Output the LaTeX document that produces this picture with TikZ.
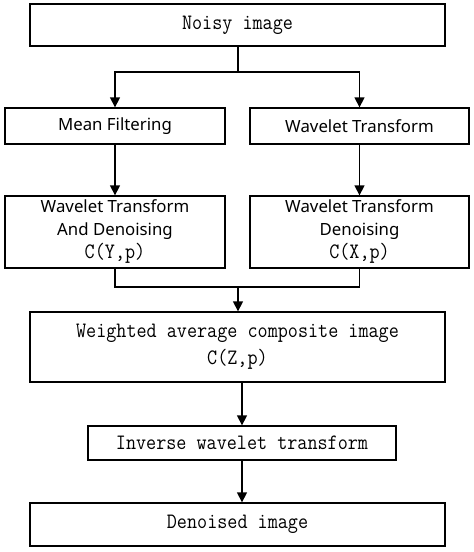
\documentclass[tikz,border=0pt]{standalone}
\usepackage{fontspec}
\usetikzlibrary{arrows.meta}
\newfontfamily\monof[FakeStretch=0.89]{Latin Modern Mono}
\newfontfamily\sansf{Noto Sans}
\begin{document}
\begin{tikzpicture}[x=1pt,y=-1pt,
  box/.style={draw,line width=1.3pt,inner sep=0pt,align=center},
  mtext/.style={font=\monof\fontsize{22}{27}\selectfont},
  stext/.style={font=\sansf\fontsize{16.8}{23}\selectfont},
  conn/.style={line width=1.3pt},
  arr/.style={conn,-{Triangle[length=10pt,width=10pt]}}]
\useasboundingbox (0,0) rectangle (474,552);
\node[box,mtext,minimum width=415pt,minimum height=42pt] (noisy) at (237.5,25) {Noisy image};
\node[box,stext,minimum width=220pt,minimum height=36pt] (mean) at (115,126) {Mean Filtering};
\node[box,stext,minimum width=219pt,minimum height=36pt] (wt) at (359.5,126) {Wavelet Transform};
\node[box,stext,minimum width=220pt,minimum height=72pt] (wtd1) at (115,232) {Wavelet Transform\\And Denoising\\{\monof\fontsize{22}{25}\selectfont C(Y,p)}};
\node[box,stext,minimum width=219pt,minimum height=72pt] (wtd2) at (359.5,232) {Wavelet Transform\\Denoising\\{\monof\fontsize{22}{25}\selectfont C(X,p)}};
\node[box,mtext,minimum width=415pt,minimum height=70pt] (wavg) at (237.5,347) {Weighted average composite image\\C(Z,p)};
\node[box,mtext,minimum width=308pt,minimum height=34pt] (inv) at (242,443) {Inverse wavelet transform};
\node[box,mtext,minimum width=415pt,minimum height=43pt] (den) at (237.5,524.5) {Denoised image};
\coordinate (j1) at (238,72);
\coordinate (j2) at (238,287);
\draw[conn] (noisy.south -| j1) -- (j1);
\draw[arr] (j1) -| (mean.north);
\draw[arr] (j1) -| (wt.north);
\draw[arr] (mean) -- (wtd1);
\draw[arr] (wt) -- (wtd2);
\draw[conn] (wtd1.south) |- (j2);
\draw[conn] (wtd2.south) |- (j2);
\draw[arr] (j2) -- (j2 |- wavg.north);
\draw[arr] (inv.north |- wavg.south) -- (inv.north);
\draw[arr] (inv.south) -- (inv.south |- den.north);
\end{tikzpicture}
\end{document}
